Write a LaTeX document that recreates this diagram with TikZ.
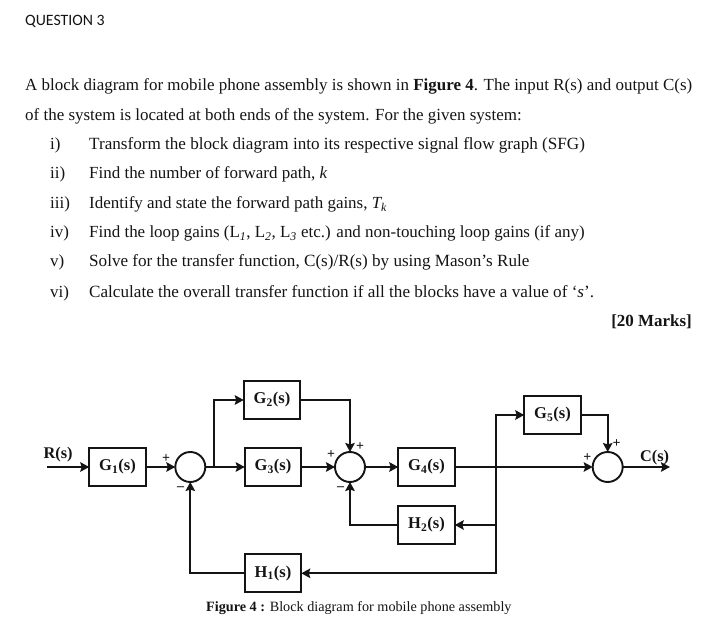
\documentclass[tikz,border=0pt]{standalone}
\usepackage{fontspec}
\setmainfont{Liberation Serif}
\newfontfamily\calibrifont{Carlito}
\usetikzlibrary{arrows.meta,calc}
\definecolor{ink}{RGB}{20,20,20}
\tikzset{
  body/.style={anchor=base west,inner sep=0pt,text=ink,font=\fontsize{16.96}{18}\selectfont},
  wide/.style={body,font=\fontsize{17.12}{18}\selectfont},
  block/.style={draw=ink,line width=1.9pt,minimum width=56.5pt,minimum height=38pt,inner sep=0pt,outer sep=0pt,font=\fontsize{16.5}{18}\selectfont\bfseries,text=ink},
  junction/.style={draw=ink,line width=1.9pt,circle,minimum size=30pt,inner sep=0pt,outer sep=0pt},
  wire/.style={draw=ink,line width=1.9pt},
  flow/.style={wire,-{Stealth[length=9pt,width=9.5pt,inset=1.5pt]}},
  sign/.style={inner sep=0pt,text=ink,font=\fontsize{14}{14}\selectfont\bfseries},
  sigtext/.style={anchor=base west,inner sep=0pt,text=ink,font=\fontsize{16.3}{18}\selectfont\bfseries}
}
\begin{document}
\begin{tikzpicture}[x=1pt,y=-1pt]
\useasboundingbox (0,0) rectangle (716,636);
% question text
\node[body,font=\fontsize{15.8}{18}\selectfont\calibrifont] (q) at (25,25.5) {QUESTION 3};
\node[body] (l1) at (25,90.5) {A block diagram for mobile phone assembly is shown in \textbf{Figure 4}. The input R(s) and output C(s)};
\node[body] (l2) at (25,120.5) {of the system is located at both ends of the system. For the given system:};
\node[body] (a1) at (50,149.5) {i)};
\node[wide] (b1) at (89,149.5) {Transform the block diagram into its respective signal flow graph (SFG)};
\node[body] (a2) at (50,179) {ii)};
\node[body] (b2) at (89,179) {Find the number of forward path, \textit{k}};
\node[body] (a3) at (50,208.5) {iii)};
\node[body] (b3) at (89,208.5) {Identify and state the forward path gains, \textit{T\textsubscript{k}}};
\node[body] (a4) at (50,238) {iv)};
\node[body] (b4) at (89,238) {Find the loop gains (L\textsubscript{\textit{1}}, L\textsubscript{\textit{2}}, L\textsubscript{\textit{3}} etc.) and non-touching loop gains (if any)};
\node[body] (a5) at (50,267) {v)};
\node[wide] (b5) at (89,267) {Solve for the transfer function, C(s)/R(s) by using Mason’s Rule};
\node[body] (a6) at (50,297.5) {vi)};
\node[wide] (b6) at (89,297.5) {Calculate the overall transfer function if all the blocks have a value of ‘\textit{s}’.};
\node[body,anchor=base east] (marks) at (692,326.5) {\textbf{[20 Marks]}};
% blocks
\node[block] (G1) at (117.5,467) {G\textsubscript{1}(s)};
\node[block] (G2) at (272,400) {G\textsubscript{2}(s)};
\node[block] (G3) at (273,467) {G\textsubscript{3}(s)};
\node[block] (G4) at (426.5,467) {G\textsubscript{4}(s)};
\node[block] (G5) at (552.5,415) {G\textsubscript{5}(s)};
\node[block] (H1) at (273,573.3) {H\textsubscript{1}(s)};
\node[block] (H2) at (426.5,525) {H\textsubscript{2}(s)};
\node[junction] (S1) at (190.3,467) {};
\node[junction] (S2) at (350,467) {};
\node[junction] (S3) at (607.7,467) {};
% free ends and branch points
\coordinate (in) at (47,467);
\coordinate (out) at (670,467);
\coordinate (up) at (214,467);
\coordinate (tap) at (496,467);
% connectors
\draw[flow] (in) -- (G1.west);
\draw[flow] (G1.east) -- (S1.west);
\draw[flow] (S1.east) -- (G3.west);
\draw[flow] (up) |- (G2.west);
\draw[flow] (G2.east) -| (S2.north);
\draw[flow] (G3.east) -- (S2.west);
\draw[flow] (S2.east) -- (G4.west);
\draw[flow] (G4.east) -- (S3.west);
\draw[flow] (G5.east) -| (S3.north);
\draw[flow] (S3.east) -- (out);
\draw[flow] (tap) |- (G5.west);
\draw[flow] (tap |- H2.east) -- (H2.east);
\draw[flow] (tap) |- (H1.east);
\draw[flow] (H2.west) -| (S2.south);
\draw[flow] (H1.west) -| (S1.south);
% signal labels
\node[sigtext] (R) at (43.5,458.7) {R(s)};
\node[sigtext] (C) at (640,461.7) {C(s)};
% signs
\node[sign] (p1) at (166,459) {+};
\node[sign] (m1) at (180.7,488.5) {–};
\node[sign] (p2) at (331,455) {+};
\node[sign] (p3) at (360,447) {+};
\node[sign] (m2) at (340.7,488.5) {–};
\node[sign] (p4) at (587.3,458) {+};
\node[sign] (p5) at (616.7,444) {+};
% caption
\node[body,font=\fontsize{14.2}{16}\selectfont] (cap) at (206,612) {\textbf{Figure 4 :} Block diagram for mobile phone assembly};
\end{tikzpicture}
\end{document}
